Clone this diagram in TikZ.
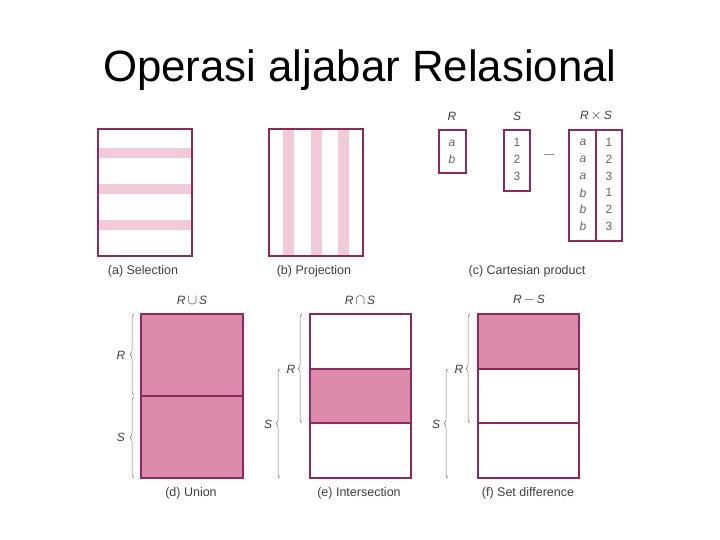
\documentclass[tikz,border=0pt]{standalone}
\usepackage{fontspec}
\setmainfont{Liberation Sans}
\usetikzlibrary{decorations.pathreplacing}
\definecolor{relframe}{HTML}{8C2A5C}
\definecolor{relfill}{HTML}{DC8AAA}
\definecolor{relstripe}{HTML}{F2CBDA}
\tikzstyle{frame} = [draw=relframe, line width=1.2pt]
\tikzstyle{lbl} = [font=\fontsize{12.5}{14}\selectfont, text=black!75, inner sep=0pt]
\tikzstyle{setname} = [font=\fontsize{12}{14}\selectfont\itshape, text=black!75, inner sep=0pt]
\tikzstyle{cellval} = [font=\fontsize{12}{14}\selectfont, text=black!60, inner sep=0pt]
\tikzstyle{bracket} = [decorate, decoration={brace, amplitude=4pt}, draw=black!55, line width=0.5pt]
\newcommand{\relop}[1]{\,{\fontsize{14}{14}\selectfont$#1$}\,}

\begin{document}
\begin{tikzpicture}[x=1pt,y=-1pt]
\useasboundingbox (0,0) rectangle (720,540);
\node[font=\fontsize{43.8}{50}\selectfont, anchor=base, inner sep=0pt] (title) at (360,82) {Operasi aljabar Relasional};

% (a) selection
\foreach \y in {148,184,220}
  \fill[relstripe] (98,\y) rectangle (192,\y+10);
\draw[frame] (98,129) rectangle (192,256);
\node[lbl] (selection) at (143,271) {(a) Selection};

% (b) projection
\foreach \x in {283,311,338}
  \fill[relstripe] (\x,129) rectangle (\x+11,256);
\draw[frame] (269,129) rectangle (363,256);
\node[lbl] (projection) at (314,271) {(b) Projection};

% (c) cartesian product
\node[setname] (hR) at (452,116) {R};
\node[setname] (hS) at (517,116) {S};
\node[setname] (hRS) at (596,116) {R\relop{\times}S};
\draw[frame] (439,130) rectangle (466,173);
\draw[frame] (504,130) rectangle (530,191);
\draw[frame] (569,130) rectangle (622,241);
\draw[frame] (596,130) -- (596,241);
\foreach \v [count=\i] in {a,b}
  \node[cellval,font=\fontsize{12}{14}\selectfont\itshape] (r\i) at (452,126.5+16.5*\i) {\v};
\foreach \v [count=\i] in {1,2,3}
  \node[cellval] (s\i) at (517,126+16.7*\i) {\v};
\node[cellval,font=\fontsize{18}{18}\selectfont] (eq) at (549,155) {$-$};
\foreach \v [count=\i] in {a,a,a,b,b,b}
  \node[cellval,font=\fontsize{12}{14}\selectfont\itshape] (pr\i) at (583,126+16.7*\i) {\v};
\foreach \v [count=\i] in {1,2,3,1,2,3}
  \node[cellval] (ps\i) at (609,126+16.7*\i) {\v};
\node[lbl] (cartesian) at (527,271) {(c) Cartesian product};

% (d) union
\node[setname] (hU) at (192,300) {R\relop{\cup}S};
\fill[relfill] (141,314) rectangle (243,478);
\draw[frame] (141,314) rectangle (243,478);
\draw[frame] (141,396) -- (243,396);
\draw[bracket] (134,395) -- (134,314);
\draw[bracket] (134,478) -- (134,397);
\node[setname] (uR) at (121,355) {R};
\node[setname] (uS) at (121,437) {S};
\node[lbl] (union) at (191,493) {(d) Union};

% (e) intersection
\node[setname] (hI) at (360,300) {R\relop{\cap}S};
\fill[relfill] (310,369) rectangle (411,423);
\draw[frame] (310,314) rectangle (411,478);
\draw[frame] (310,369) -- (411,369);
\draw[frame] (310,423) -- (411,423);
\draw[bracket] (302,423) -- (302,314);
\draw[bracket] (280,478) -- (280,369);
\node[setname] (iR) at (291,369) {R};
\node[setname] (iS) at (268,424) {S};
\node[lbl] (intersection) at (359,493) {(e) Intersection};

% (f) set difference
\node[setname] (hD) at (529,300) {R\relop{-}S};
\fill[relfill] (478,314) rectangle (579,369);
\draw[frame] (478,314) rectangle (579,478);
\draw[frame] (478,369) -- (579,369);
\draw[frame] (478,423) -- (579,423);
\draw[bracket] (470,423) -- (470,314);
\draw[bracket] (448,478) -- (448,369);
\node[setname] (dR) at (459,369) {R};
\node[setname] (dS) at (436,424) {S};
\node[lbl] (difference) at (528,493) {(f) Set difference};
\end{tikzpicture}
\end{document}
